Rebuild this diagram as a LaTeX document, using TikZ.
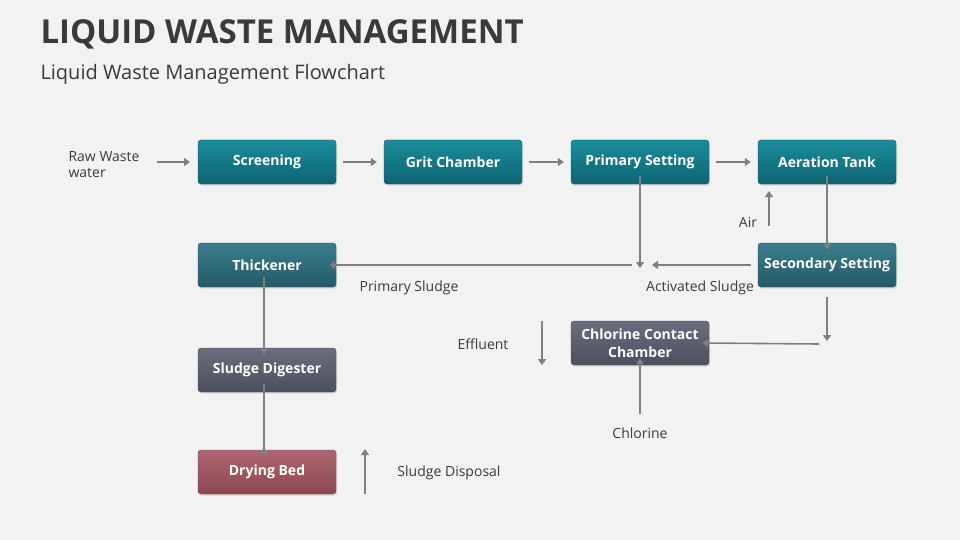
\documentclass[tikz,border=0pt]{standalone}
\usepackage{fontspec}
\setmainfont{Open Sans}
\usetikzlibrary{arrows.meta,shadows}
\definecolor{bg}{HTML}{F2F2F2}
\definecolor{tealT}{HTML}{1B8C9C}
\definecolor{tealB}{HTML}{0D6371}
\definecolor{slateT}{HTML}{3A7D8C}
\definecolor{slateB}{HTML}{245A68}
\definecolor{greyT}{HTML}{6A6E7C}
\definecolor{greyB}{HTML}{4C505E}
\definecolor{roseT}{HTML}{AE6670}
\definecolor{roseB}{HTML}{8A4752}
\definecolor{arr}{HTML}{7F7F7F}
\definecolor{txt}{HTML}{3A3A3A}
\tikzset{
  box/.style={rounded corners=3pt, minimum width=138pt, minimum height=44pt,
    text=white, font=\fontsize{14}{15}\selectfont\bfseries, align=center,
    drop shadow={shadow xshift=1pt,shadow yshift=-1.5pt,opacity=0.25}},
  teal/.style={box, top color=tealT, bottom color=tealB, draw=tealB},
  slate/.style={box, top color=slateT, bottom color=slateB, draw=slateB},
  grey/.style={box, top color=greyT, bottom color=greyB, draw=greyB},
  rose/.style={box, top color=roseT, bottom color=roseB, draw=roseB},
  ar/.style={draw=arr, line width=1.6pt, -{Triangle[length=6pt,width=8pt]}},
  lbl/.style={text=txt, font=\fontsize{14}{16}\selectfont, align=left}
}
\begin{document}
\begin{tikzpicture}[x=1pt,y=-1pt]
\fill[bg] (0,0) rectangle (960,540);
\useasboundingbox (0,0) rectangle (960,540);
\node[anchor=west, text=txt, font=\fontsize{33}{36}\selectfont\bfseries] (title) at (37,34) {LIQUID WASTE MANAGEMENT};
\node[anchor=west, text=txt, font=\fontsize{20}{22}\selectfont] (sub) at (37,74) {Liquid Waste Management Flowchart};

\node[teal] (scr) at (267,162) {Screening};
\node[teal] (grit) at (453,162) {Grit Chamber};
\node[teal] (prim) at (640,162) {Primary Setting};
\node[teal] (aer) at (827,162) {Aeration Tank};
\node[slate] (thick) at (267,265) {Thickener};
\node[slate] (sec) at (827,265) {Secondary Setting};
\node[grey, font=\fontsize{14}{18}\selectfont\bfseries] (chl) at (640,343) {Chlorine Contact\\Chamber};
\node[grey] (dig) at (267,370) {Sludge Digester};
\node[rose] (dry) at (267,472) {Drying Bed};

\node[lbl, align=left] (raw) at (104,165) {Raw Waste\\water};
\node[lbl] (air) at (748,222) {Air};
\node[lbl] (act) at (700,288) {Activated Sludge};
\node[lbl] (ps) at (409,288) {Primary Sludge};
\node[lbl] (eff) at (483,344) {Effluent};
\node[lbl] (chlor) at (640,433) {Chlorine};
\node[lbl] (disp) at (449,473) {Sludge Disposal};

\coordinate (r1) at (157,162); \coordinate (r2) at (190,162);
\draw[ar] (r1) -- (r2);
\draw[ar] (scr.east) ++(7,0) coordinate (a1) -- ([xshift=-7pt]grit.west);
\draw[ar] ([xshift=7pt]grit.east) -- ([xshift=-7pt]prim.west);
\draw[ar] ([xshift=7pt]prim.east) -- ([xshift=-7pt]aer.west);
\coordinate (j1) at (640,268);
\draw[ar] ([yshift=8pt]prim.south) -- (j1);
\draw[ar] ([yshift=8pt]aer.south) -- ([yshift=-7pt]sec.north);
\coordinate (air1) at (769,226); \coordinate (air2) at (769,191);
\draw[ar] (air1) -- (air2);
\coordinate (j2) at (652,265);
\draw[ar] ([xshift=-7pt]sec.west) -- (j2);
\coordinate (j3) at (632,265);
\draw[ar] (j3) -- ([xshift=-7pt]thick.east);
\coordinate (s1) at (827,297); \coordinate (s2) at (827,341);
\draw[ar] (s1) -- (s2);
\coordinate (s3) at (819,344);
\draw[ar] (s3) -- ([xshift=-7pt]chl.east);
\coordinate (e1) at (542,321); \coordinate (e2) at (542,365);
\draw[ar] (e1) -- (e2);
\coordinate (c1) at (640,414);
\draw[ar] (c1) -- ([yshift=7pt]chl.south);
\draw[ar] ([xshift=-3pt,yshift=10pt]thick.south) -- ([xshift=-3pt,yshift=-7pt]dig.north);
\draw[ar] ([xshift=-3pt,yshift=8pt]dig.south) -- ([xshift=-3pt,yshift=-7pt]dry.north);
\coordinate (d1) at (365,494); \coordinate (d2) at (365,449);
\draw[ar] (d1) -- (d2);
\end{tikzpicture}
\end{document}
